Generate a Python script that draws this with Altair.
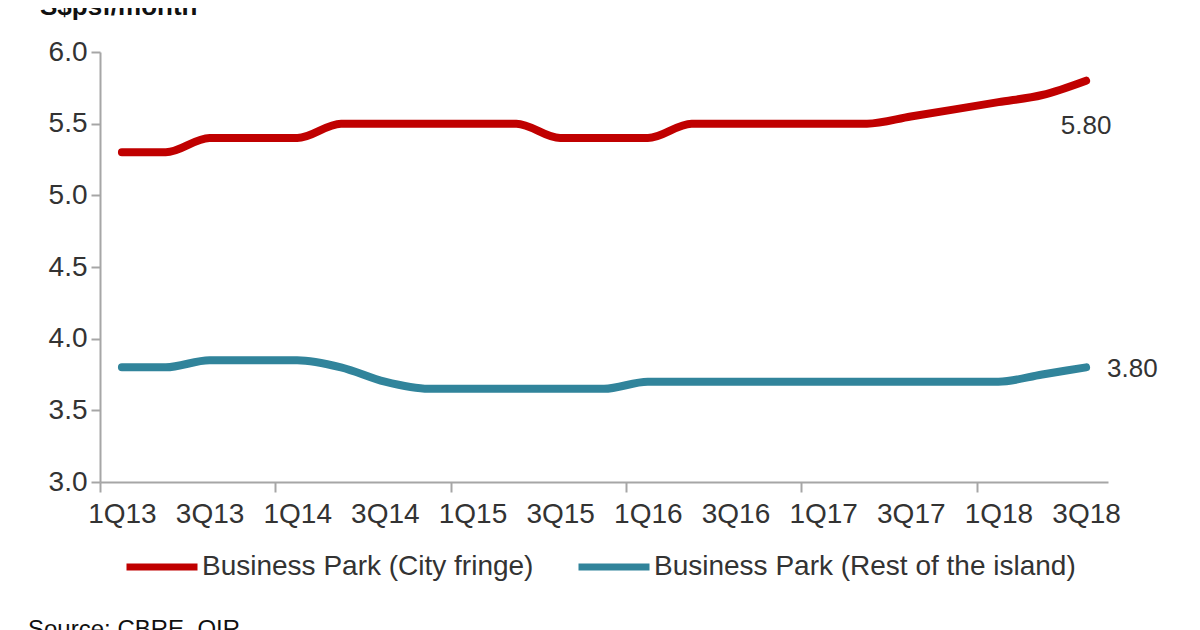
import altair as alt
import pandas as pd

quarters = ["1Q13", "2Q13", "3Q13", "4Q13", "1Q14", "2Q14", "3Q14", "4Q14",
            "1Q15", "2Q15", "3Q15", "4Q15", "1Q16", "2Q16", "3Q16", "4Q16",
            "1Q17", "2Q17", "3Q17", "4Q17", "1Q18", "2Q18", "3Q18"]
city_fringe = [5.3, 5.3, 5.4, 5.4, 5.4, 5.5, 5.5, 5.5, 5.5, 5.5, 5.4, 5.4,
               5.4, 5.5, 5.5, 5.5, 5.5, 5.5, 5.55, 5.6, 5.65, 5.7, 5.8]
rest_island = [3.8, 3.8, 3.85, 3.85, 3.85, 3.8, 3.7, 3.65, 3.65, 3.65, 3.65, 3.65,
               3.7, 3.7, 3.7, 3.7, 3.7, 3.7, 3.7, 3.7, 3.7, 3.75, 3.8]
series_names = ["Business Park (City fringe)", "Business Park (Rest of the island)"]
series_colors = ["#C00000", "#31849B"]
y_ticks = [3.0, 3.5, 4.0, 4.5, 5.0, 5.5, 6.0]
y_title = "S$psf/month"
source_text = "Source: CBRE, OIR"

FONT = "Liberation Sans"
TXT = "#333333"
GRAY = "#A6A6A6"

rows = []
for i, q in enumerate(quarters):
    rows.append({"idx": i, "quarter": q, "series": series_names[0], "value": city_fringe[i]})
    rows.append({"idx": i, "quarter": q, "series": series_names[1], "value": rest_island[i]})
df = pd.DataFrame(rows)

n = len(quarters)
label_vals = list(range(0, n, 2))
tick_vals = [k - 0.5 for k in range(0, n, 4)]
js_arr = "[" + ",".join("'" + q + "'" for q in quarters) + "]"

x_enc = alt.X(
    "idx:Q",
    scale=alt.Scale(domain=[-0.5, n - 0.5], nice=False, zero=False),
    axis=alt.Axis(
        values=sorted(label_vals + tick_vals),
        labelExpr="datum.value % 2 == 0 ? " + js_arr + "[datum.value] : ''",
        tickOpacity={"condition": {"test": "datum.value % 1 != 0", "value": 1}, "value": 0},
        grid=False, title=None, tickSize=10, tickWidth=2, tickColor=GRAY,
        domainColor=GRAY, domainWidth=2, labelPadding=8, labelFontSize=28,
        labelFont=FONT, labelColor=TXT, labelOverlap=False, labelFlush=False,
    ),
)
y_enc = alt.Y(
    "value:Q",
    scale=alt.Scale(domain=[3, 6], nice=False, zero=False),
    axis=alt.Axis(
        values=y_ticks, format=".1f", grid=False, title=None, tickSize=9,
        tickWidth=2, tickColor=GRAY, domainColor=GRAY, domainWidth=2,
        labelPadding=4, labelFontSize=28, labelFont=FONT, labelColor=TXT,
    ),
)

lines = alt.Chart(df).mark_line(strokeWidth=8, interpolate="monotone", strokeCap="round").encode(
    x=x_enc,
    y=y_enc,
    color=alt.Color(
        "series:N",
        scale=alt.Scale(domain=series_names, range=series_colors),
        legend=alt.Legend(
            orient="none", legendX=23, legendY=476, direction="horizontal",
            title=None, symbolType="stroke", symbolSize=5041, symbolStrokeWidth=7,
            labelFontSize=28, labelFont=FONT, labelColor=TXT, labelLimit=0,
            labelOffset=1, columnPadding=30,
        ),
    ),
    detail="series:N",
)

last = df[df["idx"] == n - 1]
lab1 = alt.Chart(last[last["series"] == series_names[0]]).mark_text(
    fontSize=26, font=FONT, color=TXT, align="center", baseline="middle", dy=45
).encode(x="idx:Q", y="value:Q", text=alt.Text("value:Q", format=".2f"))
lab2 = alt.Chart(last[last["series"] == series_names[1]]).mark_text(
    fontSize=26, font=FONT, color=TXT, align="left", baseline="middle", dx=21, dy=2
).encode(x="idx:Q", y="value:Q", text=alt.Text("value:Q", format=".2f"))

title_txt = alt.Chart(pd.DataFrame({"t": [y_title]})).mark_text(
    fontSize=26, font=FONT, fontWeight="bold", color="#111111", align="left", baseline="alphabetic"
).encode(x=alt.value(-60), y=alt.value(-37), text="t:N")
source_txt = alt.Chart(pd.DataFrame({"t": [source_text]})).mark_text(
    fontSize=24, font=FONT, color="#111111", align="left", baseline="alphabetic"
).encode(x=alt.value(-72), y=alt.value(585), text="t:N")

chart = alt.layer(lines, lab1, lab2, title_txt, source_txt).properties(
    width=1008, height=430,
    background="white",
    autosize=alt.AutoSizeParams(type="none"),
    padding={"left": 92, "top": 44, "right": 84, "bottom": 160},
).configure_view(stroke=None)

chart.save("out.html", embed_options={"renderer": "svg", "actions": False})
